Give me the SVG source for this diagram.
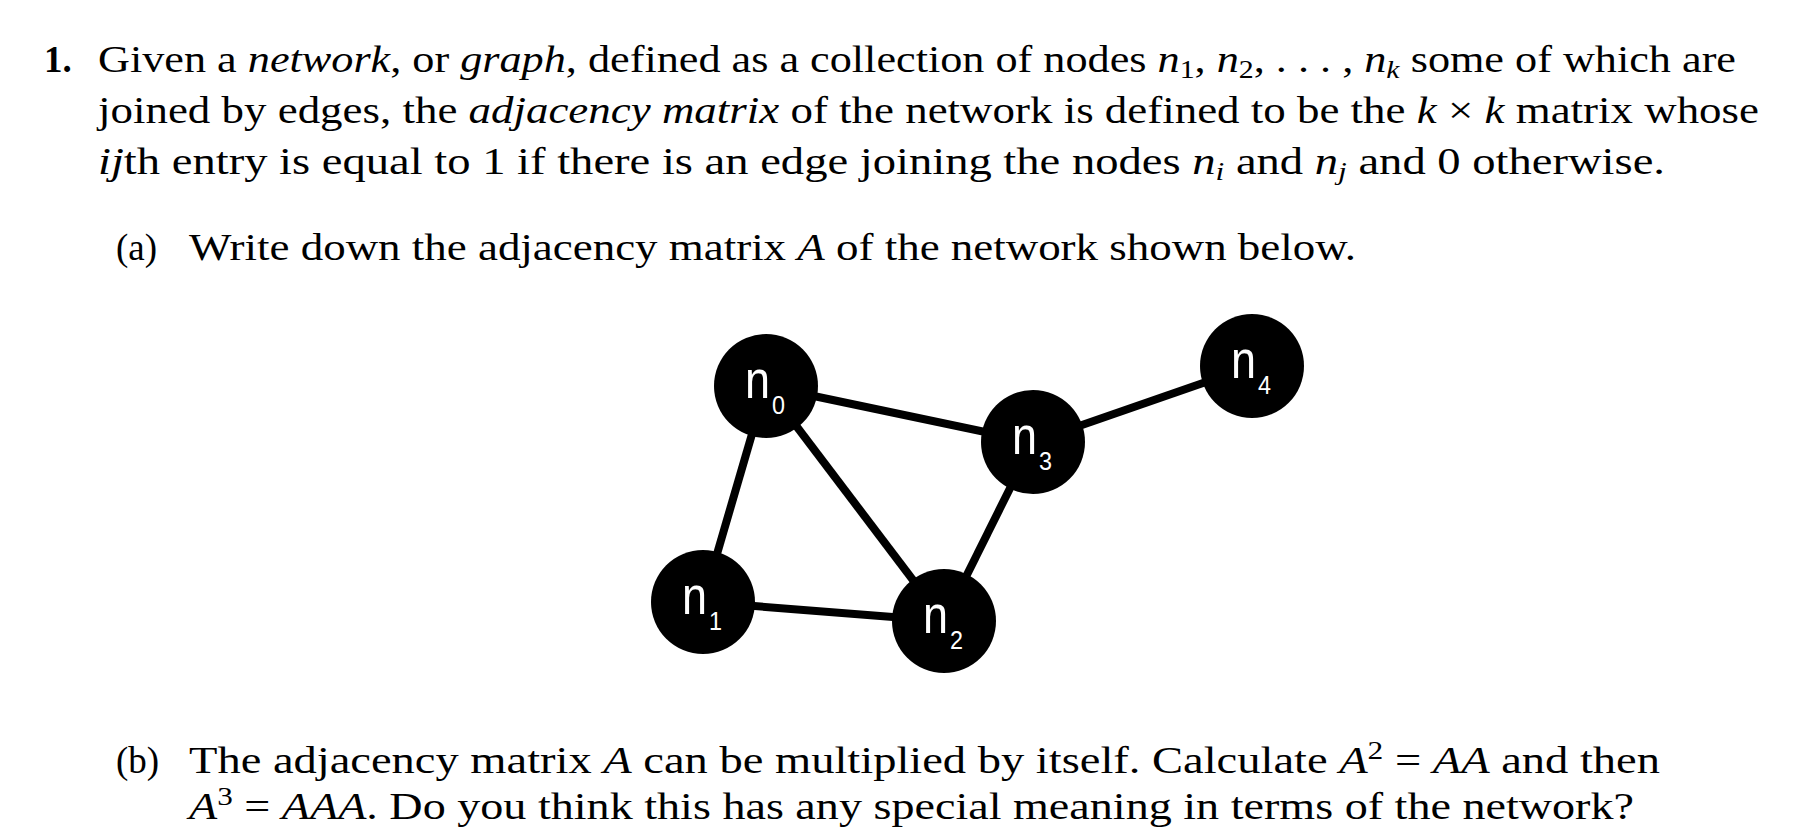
<svg xmlns="http://www.w3.org/2000/svg" width="1805" height="833" viewBox="0 0 1805 833">
<style>
.t{font-family:"Liberation Serif","Times New Roman",serif;font-size:37px;fill:#000}
.i{font-style:italic}
.n{font-family:"Liberation Sans",sans-serif;font-size:54px;fill:#fff}
.s{font-family:"Liberation Sans",sans-serif;font-size:26px;fill:#fff}
.e{stroke:#000;stroke-width:8}
</style>
<rect width="1805" height="833" fill="#fff"/>
<text class="t" x="44" y="72"><tspan font-weight="bold">1.</tspan></text>
<text class="t" x="98" y="72" textLength="1638" lengthAdjust="spacingAndGlyphs">Given a <tspan class="i">network</tspan>, or <tspan class="i">graph</tspan>, defined as a collection of nodes <tspan class="i">n</tspan><tspan font-size="25" dy="6">1</tspan><tspan dy="-6">, </tspan><tspan class="i">n</tspan><tspan font-size="25" dy="6">2</tspan><tspan dy="-6">, . . . , </tspan><tspan class="i">n</tspan><tspan class="i" font-size="25" dy="6">k</tspan><tspan dy="-6"> some of which are</tspan></text>
<text class="t" x="98" y="123" textLength="1661" lengthAdjust="spacingAndGlyphs">joined by edges, the <tspan class="i">adjacency matrix</tspan> of the network is defined to be the <tspan class="i">k</tspan> × <tspan class="i">k</tspan> matrix whose</text>
<text class="t" x="98" y="174" textLength="1567" lengthAdjust="spacingAndGlyphs"><tspan class="i">ij</tspan>th entry is equal to 1 if there is an edge joining the nodes <tspan class="i">n</tspan><tspan class="i" font-size="25" dy="6">i</tspan><tspan dy="-6"> and </tspan><tspan class="i">n</tspan><tspan class="i" font-size="25" dy="6">j</tspan><tspan dy="-6"> and 0 otherwise.</tspan></text>
<text class="t" x="116" y="260">(a)</text>
<text class="t" x="189" y="260" textLength="1167" lengthAdjust="spacingAndGlyphs">Write down the adjacency matrix <tspan class="i">A</tspan> of the network shown below.</text>
<text class="t" x="116" y="773">(b)</text>
<text class="t" x="189" y="773" textLength="1471" lengthAdjust="spacingAndGlyphs">The adjacency matrix <tspan class="i">A</tspan> can be multiplied by itself. Calculate <tspan class="i">A</tspan><tspan font-size="25" dy="-14">2</tspan><tspan dy="14"> = </tspan><tspan class="i">AA</tspan> and then</text>
<text class="t" x="189" y="819" textLength="1445" lengthAdjust="spacingAndGlyphs"><tspan class="i">A</tspan><tspan font-size="25" dy="-14">3</tspan><tspan dy="14"> = </tspan><tspan class="i">AAA</tspan>. Do you think this has any special meaning in terms of the network?</text>
<g id="edges">
<line class="e" x1="766" y1="386" x2="703" y2="602"/>
<line class="e" x1="766" y1="386" x2="944" y2="621"/>
<line class="e" x1="766" y1="386" x2="1033" y2="442"/>
<line class="e" x1="703" y1="602" x2="944" y2="621"/>
<line class="e" x1="944" y1="621" x2="1033" y2="442"/>
<line class="e" x1="1033" y1="442" x2="1252" y2="366"/>
</g>
<g id="n0"><circle cx="766" cy="386" r="52"/><text class="n" x="745" y="398" textLength="25" lengthAdjust="spacingAndGlyphs">n</text><text class="s" x="772" y="414" textLength="13" lengthAdjust="spacingAndGlyphs">0</text></g>
<g id="n1"><circle cx="703" cy="602" r="52"/><text class="n" x="682" y="614" textLength="25" lengthAdjust="spacingAndGlyphs">n</text><text class="s" x="709" y="630" textLength="13" lengthAdjust="spacingAndGlyphs">1</text></g>
<g id="n2"><circle cx="944" cy="621" r="52"/><text class="n" x="923" y="633" textLength="25" lengthAdjust="spacingAndGlyphs">n</text><text class="s" x="950" y="649" textLength="13" lengthAdjust="spacingAndGlyphs">2</text></g>
<g id="n3"><circle cx="1033" cy="442" r="52"/><text class="n" x="1012" y="454" textLength="25" lengthAdjust="spacingAndGlyphs">n</text><text class="s" x="1039" y="470" textLength="13" lengthAdjust="spacingAndGlyphs">3</text></g>
<g id="n4"><circle cx="1252" cy="366" r="52"/><text class="n" x="1231" y="378" textLength="25" lengthAdjust="spacingAndGlyphs">n</text><text class="s" x="1258" y="394" textLength="13" lengthAdjust="spacingAndGlyphs">4</text></g>
</svg>
